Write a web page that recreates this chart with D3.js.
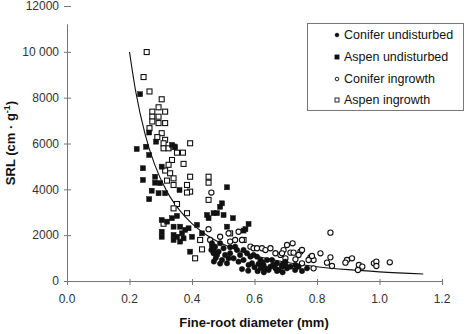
<!DOCTYPE html>
<html>
<head>
<meta charset="utf-8">
<script src="https://cdn.jsdelivr.net/npm/d3@7/dist/d3.min.js"></script>
<style>
  html, body { margin: 0; padding: 0; background: #fff; }
  svg { display: block; font-family: "Liberation Sans", Arial, Helvetica, sans-serif; }
</style>
</head>
<body>
<svg id="chart" width="474" height="334"></svg>
<script>
// Specific root length (cm/g) against fine-root diameter (mm)
const xTicks = [0.0, 0.2, 0.4, 0.6, 0.8, 1.0, 1.2];
const xTickLabels = ["0.0", "0.2", "0.4", "0.6", "0.8", "1.0", "1.2"];
const yTicks = [0, 2000, 4000, 6000, 8000, 10000, 12000];
const yTickLabels = ["0", "2000", "4000", "6000", "8000", "10 000", "12000"];

const seriesNames = ["Conifer undisturbed", "Aspen undisturbed", "Conifer ingrowth", "Aspen ingrowth"];

// [diameter, SRL]
const coniferUndisturbed = [
  [0.464,1530],[0.462,1350],[0.469,1210],
  [0.464,1645],[0.474,1500],[0.485,1280],[0.501,1427],[0.506,1135],[0.522,1208],
  [0.533,990],[0.496,917],[0.512,772],[0.544,1354],[0.554,1135],[0.565,917],
  [0.576,1208],[0.587,1062],[0.592,772],[0.608,1062],[0.619,917],[0.629,699],
  [0.640,917],[0.651,626],[0.667,553],[0.677,480],[0.688,699],[0.699,844],
  [0.635,553],[0.597,1135],[0.565,1354],[0.581,699],[0.549,844],[0.517,990],
  [0.480,1135],[0.469,1354],[0.490,1645],[0.538,1500],[0.672,772],[0.656,917],
  [0.613,742],[0.522,1470],
  [0.688,626],[0.704,553],[0.715,626],[0.731,699],[0.741,626],[0.752,437],
  [0.768,553],[0.693,772],
  [0.672,437],
  [0.620,560],[0.645,480],[0.660,700],[0.700,660],[0.625,820],[0.600,600],
  [0.476,1000],[0.490,760],[0.470,850],
  [0.560,520],[0.580,450],[0.610,430],[0.690,380],[0.730,480],[0.630,380]
];

const aspenUndisturbed = [
  [0.234,8150],[0.223,5760],[0.253,5860],[0.263,5500],[0.263,6480],[0.243,4920],
  [0.243,4410],[0.282,4550],[0.282,4290],[0.271,3940],[0.263,3570],[0.285,6080],
  [0.303,4990],[0.298,4270],[0.293,3830],[0.314,3830],[0.336,5940],[0.346,5840],
  [0.360,3970],
  [0.303,2660],[0.320,2590],[0.336,2740],[0.352,2840],[0.341,2370],[0.362,2370],
  [0.303,2150],[0.303,1930],[0.341,2010],[0.341,1790],[0.352,1930],[0.368,2080],
  [0.378,2230],[0.389,2300],[0.400,1930],[0.373,1860],[0.362,1720],[0.394,1280],
  [0.432,2080],[0.448,2880],[0.453,2740],[0.469,2960],[0.416,2450],
  [0.512,4090],[0.496,3390],[0.490,3240],[0.480,2960],[0.501,2880],[0.531,2740],
  [0.512,2370],[0.571,2260],[0.581,2490],[0.565,2200]
];

const coniferIngrowth = [
  [0.462,3860],[0.453,2260],[0.458,1790],
  [0.517,2080],[0.549,2150],[0.490,1930],[0.522,1720],[0.538,1790],[0.560,1790],
  [0.587,1500],[0.597,1430],[0.608,1430],[0.624,1430],[0.635,1350],[0.651,1430],
  [0.667,1210],[0.683,1140],[0.693,1350],
  [0.843,2110],[0.704,1572],[0.722,1645],[0.688,1208],[0.715,1237],[0.725,1237],
  [0.747,1280],[0.752,1354],[0.741,1135],[0.699,990],[0.731,947],[0.779,1033],
  [0.789,917],[0.773,917],[0.784,1092],[0.811,1208],[0.843,1033],[0.832,800],
  [0.848,655],[0.896,917],[0.891,800],[0.752,772],[0.789,553],
  [0.912,990],[0.934,699],[0.945,626],[0.931,480],[0.982,772],[0.990,844],
  [0.990,655],[1.033,815]
];

const aspenIngrowth = [
  [0.255,9990],[0.245,8900],[0.264,8270],[0.303,7930],[0.293,7580],[0.273,7390],
  [0.314,7390],[0.293,7170],[0.273,7170],[0.273,6960],[0.293,6890],[0.314,6890],
  [0.264,6670],[0.303,6450],[0.289,6280],[0.394,6010],[0.314,6160],
  [0.309,6010],[0.309,5790],[0.325,5790],[0.341,5860],[0.352,5600],[0.371,5600],
  [0.336,5280],[0.325,5070],[0.373,5110],[0.314,4820],[0.330,4700],[0.341,4480],
  [0.320,4380],[0.394,4550],[0.341,4190],[0.384,4190],[0.394,3900],[0.384,3860],
  [0.453,4550],[0.453,4290],[0.453,3540],[0.352,3360],[0.341,3170],[0.384,2960],
  [0.309,2500],[0.426,1790],[0.432,1380],[0.410,990],
  [0.522,2080],[0.565,1790]
];

// Fitted curve through the pooled data
const fitDiameter = [0.20, 0.22, 0.25, 0.28, 0.32, 0.36, 0.40, 0.45, 0.50, 0.55, 0.60, 0.70, 0.80, 0.90, 1.00, 1.14];
const fitSRL      = [10000, 8260, 6400, 5100, 3900, 3090, 2500, 1975, 1600, 1320, 1110, 815, 625, 495, 400, 308];

const svg = d3.select("#chart");
const x = d3.scaleLinear().domain([0, 1.2]).range([67, 442]);
const y = d3.scaleLinear().domain([0, 12000]).range([281, 6]);

const ink = "#111";
const axisGrey = "#777";

// Axes
const gAxes = svg.append("g");
gAxes.append("line")
  .attr("x1", x(0)).attr("x2", x(1.2))
  .attr("y1", y(0) + 0.5).attr("y2", y(0) + 0.5)
  .attr("stroke", axisGrey).attr("stroke-width", 1);
gAxes.append("line")
  .attr("x1", x(0) + 0.5).attr("x2", x(0) + 0.5)
  .attr("y1", y(0)).attr("y2", y(11200))
  .attr("stroke", axisGrey).attr("stroke-width", 1);

gAxes.selectAll(".ytick").data(yTicks).join("line")
  .attr("x1", x(0) - 3).attr("x2", x(0) + 4)
  .attr("y1", d => y(d) + 0.5).attr("y2", d => y(d) + 0.5)
  .attr("stroke", axisGrey).attr("stroke-width", 1);
gAxes.selectAll(".ylab").data(yTicks).join("text")
  .attr("x", x(0) - 8).attr("y", d => y(d))
  .attr("dy", "0.36em").attr("text-anchor", "end")
  .attr("font-size", 12).attr("fill", "#333")
  .text((d, i) => yTickLabels[i]);

gAxes.selectAll(".xtick").data(xTicks).join("line")
  .attr("x1", d => x(d) + 0.5).attr("x2", d => x(d) + 0.5)
  .attr("y1", y(0) - 2).attr("y2", y(0) + 4)
  .attr("stroke", axisGrey).attr("stroke-width", 1);
gAxes.selectAll(".xlab").data(xTicks).join("text")
  .attr("x", d => x(d)).attr("y", 303)
  .attr("text-anchor", "middle")
  .attr("font-size", 12).attr("fill", "#333")
  .text((d, i) => xTickLabels[i]);

// Axis titles
svg.append("text")
  .attr("x", 254).attr("y", 327)
  .attr("text-anchor", "middle")
  .attr("font-size", 13).attr("font-weight", "bold").attr("fill", ink)
  .text("Fine-root diameter (mm)");

const yTitle = svg.append("text")
  .attr("transform", "translate(15,143) rotate(-90)")
  .attr("text-anchor", "middle")
  .attr("font-size", 13).attr("font-weight", "bold").attr("fill", ink);
yTitle.append("tspan").text("SRL (cm · g");
yTitle.append("tspan").attr("dy", -5).attr("font-size", 9).text("-1");
yTitle.append("tspan").attr("dy", 5).text(")");

// Fitted curve
const fitPoints = fitDiameter.map((d, i) => [d, fitSRL[i]]);
svg.append("path")
  .datum(fitPoints)
  .attr("fill", "none").attr("stroke", ink).attr("stroke-width", 1.1)
  .attr("d", d3.line().x(d => x(d[0])).y(d => y(d[1])).curve(d3.curveMonotoneX));

// Point markers
function drawCircles(data, filled, r) {
  svg.append("g").selectAll("circle").data(data).join("circle")
    .attr("cx", d => x(d[0])).attr("cy", d => y(d[1])).attr("r", r)
    .attr("fill", filled ? ink : "#fff")
    .attr("stroke", ink).attr("stroke-width", filled ? 0.5 : 1.1);
}
function drawSquares(data, filled, s) {
  svg.append("g").selectAll("rect").data(data).join("rect")
    .attr("x", d => x(d[0]) - s / 2).attr("y", d => y(d[1]) - s / 2)
    .attr("width", s).attr("height", s)
    .attr("fill", filled ? ink : "#fff")
    .attr("stroke", ink).attr("stroke-width", filled ? 0.5 : 1.1);
}

drawSquares(aspenIngrowth, false, 5);
drawCircles(coniferIngrowth, false, 2.6);
drawSquares(aspenUndisturbed, true, 5);
drawCircles(coniferUndisturbed, true, 2.7);

// Legend
const legend = svg.append("g");
legend.append("rect")
  .attr("x", 307.5).attr("y", 23.5).attr("width", 156).attr("height", 87)
  .attr("fill", "none").attr("stroke", axisGrey).attr("stroke-width", 1);
const legendY = [35, 57, 79, 100];
seriesNames.forEach((name, i) => {
  const cy = legendY[i];
  if (i === 0 || i === 2) {
    legend.append("circle").attr("cx", 337).attr("cy", cy).attr("r", 1.8)
      .attr("fill", i === 0 ? ink : "#fff").attr("stroke", ink).attr("stroke-width", 0.9);
  } else {
    legend.append("rect").attr("x", 335).attr("y", cy - 2).attr("width", 4).attr("height", 4)
      .attr("fill", i === 1 ? ink : "#fff").attr("stroke", ink).attr("stroke-width", 0.9);
  }
  legend.append("text").attr("x", 344).attr("y", cy).attr("dy", "0.35em")
    .attr("font-size", 12.5).attr("fill", ink).text(name);
});
</script>
</body>
</html>
